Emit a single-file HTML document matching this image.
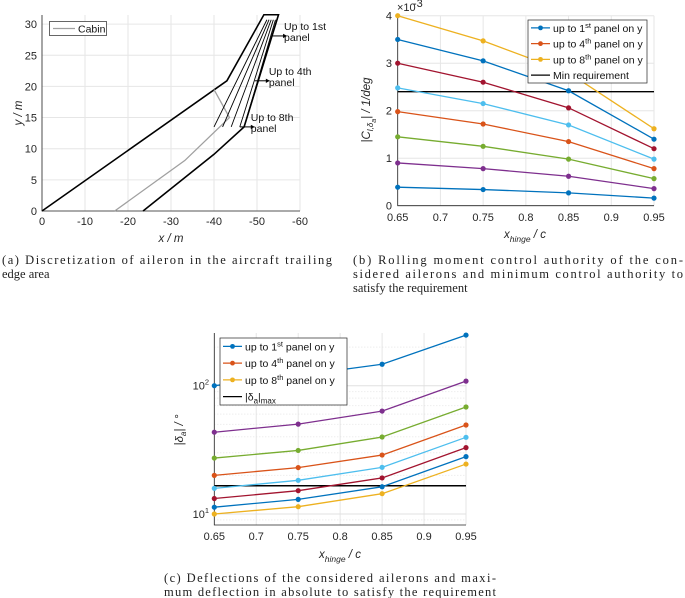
<!DOCTYPE html>
<html><head><meta charset="utf-8"><style>
body{margin:0;background:#fff;width:685px;height:598px;overflow:hidden}
svg{display:block}
.cap{font-family:"Liberation Serif",serif;font-size:12.5px;fill:#222}
.tk{font-family:"Liberation Sans",sans-serif;font-size:11px;fill:#262626}
.lb{font-family:"Liberation Sans",sans-serif;font-size:11.5px;fill:#262626}
.lg{font-family:"Liberation Sans",sans-serif;font-size:10.5px;fill:#111}
</style></head><body>
<svg id="s" width="685" height="598">
<text class="cap" x="2" y="264" textLength="330" lengthAdjust="spacing">(a) Discretization of aileron in the aircraft trailing</text>
<text class="cap" x="2" y="278">edge area</text>
<text class="cap" x="353" y="264" textLength="330" lengthAdjust="spacing">(b) Rolling moment control authority of the con-</text>
<text class="cap" x="353" y="278" textLength="330" lengthAdjust="spacing">sidered ailerons and minimum control authority to</text>
<text class="cap" x="353" y="292">satisfy the requirement</text>
<text class="cap" x="164" y="582" textLength="332" lengthAdjust="spacing">(c) Deflections of the considered ailerons and maxi-</text>
<text class="cap" x="164" y="596" textLength="332" lengthAdjust="spacing">mum deflection in absolute to satisfy the requirement</text>
</svg>
<script>
const NS='http://www.w3.org/2000/svg';
const svg=document.getElementById('s');
function mk(t,a,p){const e=document.createElementNS(NS,t);for(const k in a)e.setAttribute(k,a[k]);(p||svg).appendChild(e);return e;}
function tx(s,x,y,cls,anchor){const e=mk('text',{x:x,y:y,class:cls,'text-anchor':anchor||'start'});e.textContent=s;return e;}

// ---------- Chart A data ----------
const wingX=[0,-43,-51.6,-55,-47,-40,-23.5];
const wingY=[0,20.9,31.5,31.5,13.5,9.1,0];
const cabinX=[-40,-43.6,-33.2,-16.9];
const cabinY=[19.5,15,8.1,0];
const panelTopX=[-52.3,-52.8,-53.3,-53.8,-54.3];
const panelBotX=[-40,-42,-44,-46,-47];
const aTicksX=[0,-10,-20,-30,-40,-50,-60];
const aTicksY=[0,5,10,15,20,25,30];

const ax=v=>42+(v/-60)*258, ay=v=>211-v*6.23;
const gA=mk('g',{});


aTicksX.forEach(v=>{mk('line',{x1:ax(v),x2:ax(v),y1:15,y2:211,stroke:'#e6e6e6'},gA);const t=tx(String(v),ax(v),225,'tk','middle');gA.appendChild(t);});
aTicksY.forEach(v=>{mk('line',{x1:42,x2:300,y1:ay(v),y2:ay(v),stroke:'#e6e6e6'},gA);const t=tx(String(v),37,ay(v)+4,'tk','end');gA.appendChild(t);});
mk('path',{d:'M42 15V211H300',fill:'none',stroke:'#262626','stroke-width':0.8},gA);
let d=wingX.map((x,i)=>(i?'L':'M')+ax(x)+' '+ay(wingY[i])).join('');
const wing=mk('path',{d:d,fill:'none',stroke:'#000','stroke-width':1.6},gA);


d=cabinX.map((x,i)=>(i?'L':'M')+ax(x)+' '+ay(cabinY[i])).join('');
const cab=mk('path',{d:d,fill:'none',stroke:'#a0a0a0','stroke-width':1.3},gA);


panelTopX.forEach((t,i)=>{const l=mk('line',{x1:ax(t),y1:ay(30.7),x2:ax(panelBotX[i]),y2:ay(13.5),stroke:'#000','stroke-width':0.9},gA);

});
[[28.1,'Up to 1st','panel'],[20.9,'Up to 4th','panel'],[13.5,'Up to 8th','panel']].forEach((r,i)=>{
 const x0=ax(i==0?-53.5:i==1?-49.5:-46);const y0=ay(r[0]);
 mk('line',{x1:x0,y1:y0,x2:x0+12,y2:y0,stroke:'#000','stroke-width':1},gA);
 mk('path',{d:`M${x0+15} ${y0}l-4 -2.2v4.4z`,fill:'#000'},gA);
 const t1=tx(r[1],x0+(i==0?12:i==1?14:11),y0-6,'lg');t1.setAttribute('font-size','8.5');gA.appendChild(t1);
 const t2=tx(r[2],x0+(i==0?12:i==1?14:11),y0+5,'lg');t2.setAttribute('font-size','8.5');gA.appendChild(t2);
});
const la=mk('g',{},gA);


mk('rect',{x:49.5,y:21.5,width:57,height:14,fill:'#fff',stroke:'#262626','stroke-width':0.7},la);
mk('line',{x1:53,x2:75,y1:28.5,y2:28.5,stroke:'#a0a0a0','stroke-width':1.3},la);
la.appendChild(tx('Cabin',78,32.5,'lg'));
const ylA=tx('y / m',0,0,'lb','middle');ylA.setAttribute('transform','translate(22,113) rotate(-90)');ylA.setAttribute('font-style','italic');gA.appendChild(ylA);
const xlA=tx('x / m',171,242,'lb','middle');xlA.setAttribute('font-style','italic');gA.appendChild(xlA);

// ---------- Shared series colors/labels ----------
const colors=['#0072BD','#EDB120','#A2142F','#4DBEEE','#D95319','#77AC30','#7E2F8E','#0072BD'];
const xCats=[0.65,0.75,0.85,0.95];
const xTicks=[0.65,0.7,0.75,0.8,0.85,0.9,0.95];

// ---------- Chart B data (x1e-3) ----------
const bS1=[3.5,3.05,2.42,1.4];
const bS2=[4.0,3.47,2.8,1.62];
const bS3=[3.0,2.6,2.06,1.2];
const bS4=[2.48,2.15,1.7,0.98];
const bS5=[1.98,1.72,1.35,0.78];
const bS6=[1.45,1.25,0.98,0.57];
const bS7=[0.9,0.78,0.62,0.36];
const bS8=[0.39,0.34,0.27,0.16];
const bMin=2.4;
const bTicksY=[0,1,2,3,4];

const bx=v=>397.7+(v-0.65)/0.3*256.3, by=v=>205.7-v*47.5;
const gB=mk('g',{});


xTicks.forEach(v=>{mk('line',{x1:bx(v),x2:bx(v),y1:by(4),y2:by(0),stroke:'#e6e6e6'},gB);gB.appendChild(tx(String(v),bx(v),221,'tk','middle'));});
bTicksY.forEach(v=>{mk('line',{x1:bx(.65),x2:bx(.95),y1:by(v),y2:by(v),stroke:'#e6e6e6'},gB);gB.appendChild(tx(String(v),392,by(v)+4,'tk','end'));});
mk('path',{d:`M${bx(.65)} ${by(4)}V${by(0)}H${bx(.95)}`,fill:'none',stroke:'#262626','stroke-width':0.8},gB);
const e3=tx('×10',397,11,'tk');e3.setAttribute('font-size','9');gB.appendChild(e3);
const e3b=tx('-3',413,7,'tk');e3b.setAttribute('font-size','7');gB.appendChild(e3b);
const minl=mk('line',{x1:bx(.65),x2:bx(.95),y1:by(bMin),y2:by(bMin),stroke:'#000','stroke-width':1.4},gB);


function series(g,vals,col,fx,fy,name){
 const p=mk('polyline',{points:vals.map((v,i)=>fx(xCats[i])+','+fy(v)).join(' '),fill:'none',stroke:col,'stroke-width':1.3},g);
 
 
 vals.forEach((v,i)=>{const c=mk('circle',{cx:fx(xCats[i]),cy:fy(v),r:2.6,fill:col},g);
 
 });
}
[bS1,bS2,bS3,bS4,bS5,bS6,bS7,bS8].forEach((s,i)=>series(gB,s,colors[i],bx,by,'series-b-'+(i+1)));
function legend(g,x,y,w,h,lastLabel,name){
 const L=mk('g',{},g);
 
 
 mk('rect',{x:x,y:y,width:w,height:h,fill:'#fff',stroke:'#262626','stroke-width':0.7},L);
 const labs=[['1','st'],['4','th'],['8','th']];
 const cs=[colors[0],colors[4],colors[1]];
 const step=h/4;
 for(let i=0;i<4;i++){
  const yy=y+step*(i+0.5);
  const c=i<3?cs[i]:'#000';
  mk('line',{x1:x+3,x2:x+22,y1:yy,y2:yy,stroke:c,'stroke-width':1.3},L);
  if(i<3)mk('circle',{cx:x+12.5,cy:yy,r:2.4,fill:c},L);
  const t=tx('',x+25,yy+4,'lg');
  if(i<3){t.innerHTML='up to '+labs[i][0]+'<tspan dy="-4" font-size="7.5">'+labs[i][1]+'</tspan><tspan dy="4"> panel on y</tspan>';}
  else t.innerHTML=lastLabel;
  L.appendChild(t);
 }
}
legend(gB,528,20,119,63,'Min requirement','legend-b');
const ylB=tx('',0,0,'lb','middle');ylB.setAttribute('transform','translate(370,110) rotate(-90)');ylB.setAttribute('font-style','italic');
ylB.innerHTML='|C<tspan dy="3" font-size="8">l,δ</tspan><tspan dy="3" font-size="7">a</tspan><tspan dy="-6">| / 1/deg</tspan>';gB.appendChild(ylB);
const xlB=tx('',525,238,'lb','middle');xlB.setAttribute('font-style','italic');
xlB.innerHTML='x<tspan dy="4" font-size="8.5">hinge</tspan><tspan dy="-4"> / c</tspan>';gB.appendChild(xlB);

// ---------- Chart C data ----------
const cS1=[100,120,147,248];
const cS2=[43.4,50.2,63.4,108.6];
const cS3=[27.3,31.3,39.8,68.2];
const cS4=[20.0,23.0,28.8,49.4];
const cS5=[15.85,18.3,23.1,39.6];
const cS6=[13.2,15.2,19.1,32.9];
const cS7=[11.3,13.0,16.3,28.0];
const cS8=[10,11.4,14.4,24.5];
const cMax=16.6;
const cColors=['#0072BD','#7E2F8E','#77AC30','#D95319','#4DBEEE','#A2142F','#0072BD','#EDB120'];

const cx=v=>214.3+(v-0.65)/0.3*251.7, cy=v=>514-(Math.log10(v)-1)*128.3;
const gC=mk('g',{});


const cTop=333,cBot=525;
xTicks.forEach(v=>{mk('line',{x1:cx(v),x2:cx(v),y1:cTop,y2:cBot,stroke:'#e6e6e6'},gC);gC.appendChild(tx(String(v),cx(v),540,'tk','middle'));});
[9,20,30,40,50,60,70,80,90,200].forEach(v=>mk('line',{x1:214.3,x2:466,y1:cy(v),y2:cy(v),stroke:'#e6e6e6','stroke-dasharray':'1 2'},gC));
[10,100].forEach(v=>{mk('line',{x1:214.3,x2:466,y1:cy(v),y2:cy(v),stroke:'#e0e0e0'},gC);const t=tx('',209,cy(v)+4,'tk','end');t.innerHTML='10<tspan dy="-5" font-size="7.5">'+(v==10?1:2)+'</tspan>';gC.appendChild(t);});
mk('path',{d:`M214.3 ${cTop}V${cBot}H466`,fill:'none',stroke:'#262626','stroke-width':0.8},gC);
const maxl=mk('line',{x1:214.3,x2:466,y1:cy(cMax),y2:cy(cMax),stroke:'#000','stroke-width':1.4},gC);


[cS1,cS2,cS3,cS4,cS5,cS6,cS7,cS8].forEach((s,i)=>series(gC,s,cColors[i],cx,cy,'series-c-'+(i+1)));
legend(gC,220,338,127,67,'|δ<tspan dy="3" font-size="8">a</tspan><tspan dy="-3">|</tspan><tspan dy="3" font-size="8">max</tspan>','legend-c');
const ylC=tx('',0,0,'lb','middle');ylC.setAttribute('transform','translate(183,430) rotate(-90)');ylC.setAttribute('font-style','italic');
ylC.innerHTML='|δ<tspan dy="3" font-size="8">a</tspan><tspan dy="-3">| / °</tspan>';gC.appendChild(ylC);
const xlC=tx('',340,558,'lb','middle');xlC.setAttribute('font-style','italic');
xlC.innerHTML='x<tspan dy="4" font-size="8.5">hinge</tspan><tspan dy="-4"> / c</tspan>';gC.appendChild(xlC);
</script>
</body></html>
